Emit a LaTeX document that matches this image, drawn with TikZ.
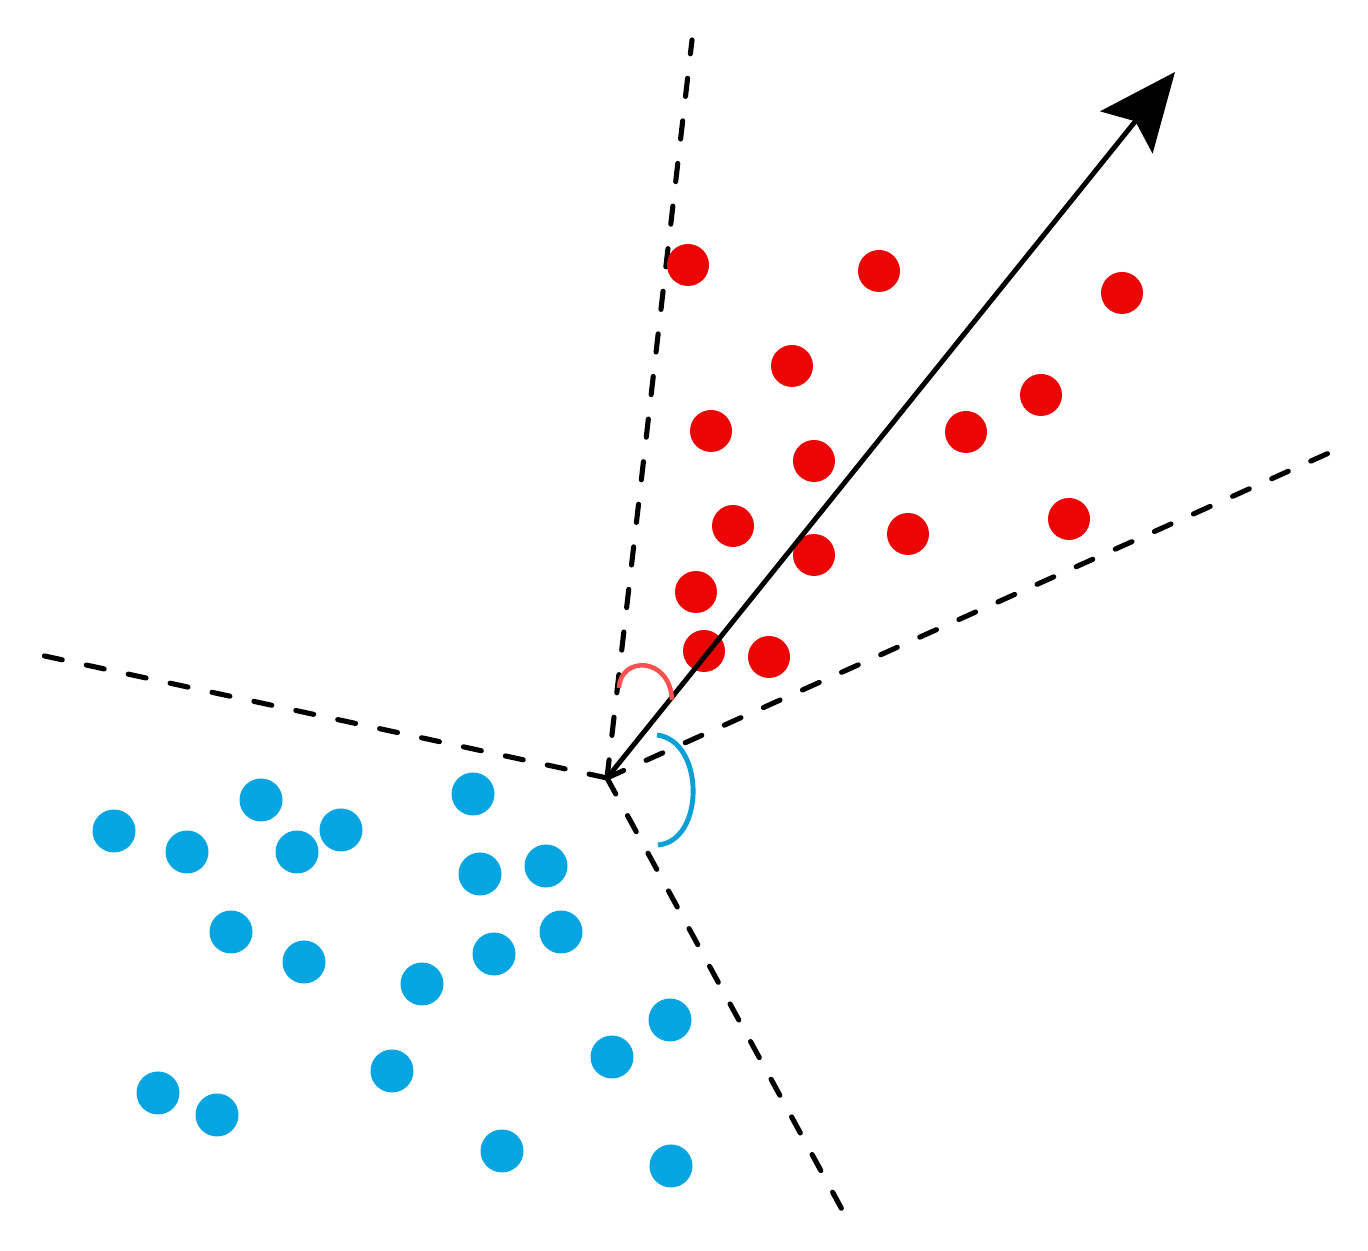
\documentclass[tikz,border=0pt]{standalone}
\usepackage{tikz}
\usetikzlibrary{arrows.meta}

\definecolor{dotred}{RGB}{235,5,5}
\definecolor{dotblue}{RGB}{5,165,225}
\definecolor{arcred}{RGB}{250,80,80}
\definecolor{arcblue}{RGB}{10,160,215}

\begin{document}
\begin{tikzpicture}[
  border/.style={line width=1.45pt, line cap=round, dash pattern=on 5.2pt off 7pt},
  reddot/.style={fill=dotred},
  bluedot/.style={fill=dotblue}]

\useasboundingbox (0,0) rectangle (13.68,12.51);

\coordinate (O) at (6.07,4.73);
\coordinate (up) at (6.92,12.11);
\coordinate (left) at (0.40,5.96);
\coordinate (right) at (13.40,8.03);
\coordinate (down) at (8.45,0.36);
\coordinate (tip) at (11.75,11.79);

% region borders
\draw[border] (O) -- (up);
\draw[border] (O) -- (left);
\draw[border] (O) -- (right);
\draw[border] (O) -- (down);

% red class
\foreach \x/\y in {6.88/9.86, 8.79/9.80, 11.22/9.58, 7.92/8.85, 10.41/8.56,
  7.11/8.20, 8.14/7.90, 9.66/8.19, 7.33/7.25, 8.14/6.96, 9.08/7.17,
  10.69/7.32, 6.96/6.59, 7.04/6.00, 7.69/5.94}
  \fill[reddot] (\x,\y) circle (0.21);

% blue class
\foreach \x/\y in {1.14/4.20, 2.61/4.51, 1.87/3.99, 2.97/3.99, 3.41/4.21,
  4.73/4.57, 4.80/3.77, 5.46/3.85, 2.31/3.19, 3.04/2.89, 4.94/2.97,
  5.61/3.19, 4.22/2.67, 6.70/2.31, 6.12/1.94, 3.92/1.80, 1.58/1.58,
  2.17/1.36, 5.02/1.00, 6.71/0.85}
  \fill[bluedot] (\x,\y) circle (0.215);

% direction
\draw[line width=1.4pt, -{Stealth[length=22pt, width=19pt, inset=4pt]}] (O) -- (tip);

% angles
\draw[arcred, line width=1.3pt] (6.19,5.63) .. controls (6.20,5.95) and (6.70,5.95) .. (6.72,5.51);
\draw[arcblue, line width=1.4pt] (6.57,5.16) .. controls (7.05,5.10) and (7.05,4.10) .. (6.58,4.06);

\end{tikzpicture}
\end{document}
